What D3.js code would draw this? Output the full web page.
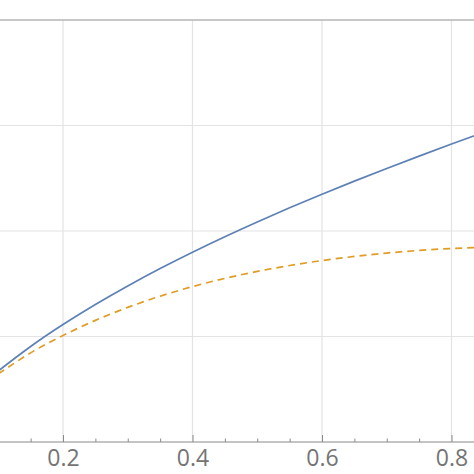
<!DOCTYPE html>
<html>
<head>
<style>
  body { margin: 0; background: #fff; }
</style>
</head>
<body>
<svg width="474" height="474"></svg>
<script src="https://d3js.org/d3.v7.min.js"></script>
<script>
    // values (y in gridline units)
    var xs = [0.10, 0.15, 0.20, 0.25, 0.30, 0.35, 0.40, 0.45, 0.50, 0.55, 0.60, 0.65, 0.70, 0.75, 0.80, 0.85];
    var solidSeries = [0.673, 0.905, 1.113, 1.303, 1.479, 1.644, 1.799, 1.946, 2.086, 2.220, 2.349, 2.473, 2.593, 2.710, 2.824, 2.935];
    var dashedSeries = [0.645, 0.845, 1.010, 1.153, 1.276, 1.382, 1.473, 1.551, 1.617, 1.673, 1.720, 1.759, 1.791, 1.816, 1.834, 1.845];
    var xTicks = [0.2, 0.4, 0.6, 0.8];
    var xMinorTicks = [0.15, 0.25, 0.3, 0.35, 0.45, 0.5, 0.55, 0.65, 0.7, 0.75, 0.85];
    var yGrid = [1, 2, 3];

    var svg = d3.select("svg"),
        width = +svg.attr("width"),
        height = +svg.attr("height");

    // x: 0.2 -> 63px, 0.8 -> 451.5px ; y: 0 -> 442px, 4 -> 20px
    var x = d3.scaleLinear().domain([0.2, 0.8]).range([63, 451.5]);
    var y = d3.scaleLinear().domain([0, 4]).range([442, 20]);

    var g = svg.append("g");

    // grid
    g.selectAll(".vgrid")
        .data(xTicks)
        .enter().append("line")
        .attr("class", "vgrid")
        .attr("x1", function (d) { return x(d); })
        .attr("x2", function (d) { return x(d); })
        .attr("y1", y(0))
        .attr("y2", y(4))
        .attr("stroke", "#e3e3e3")
        .attr("stroke-width", 1.2);

    g.selectAll(".hgrid")
        .data(yGrid)
        .enter().append("line")
        .attr("class", "hgrid")
        .attr("x1", 0)
        .attr("x2", width)
        .attr("y1", function (d) { return y(d); })
        .attr("y2", function (d) { return y(d); })
        .attr("stroke", "#e3e3e3")
        .attr("stroke-width", 1.2);

    // top frame
    g.append("line")
        .attr("x1", 0).attr("x2", width)
        .attr("y1", y(4)).attr("y2", y(4))
        .attr("stroke", "#b5b5b5")
        .attr("stroke-width", 1.3);

    // bottom axis (ticks inside)
    var xAxis = g.append("g")
        .attr("transform", "translate(0," + y(0) + ")")
        .call(d3.axisBottom(x).tickValues(xTicks).tickSize(-7).tickPadding(8)
            .tickFormat(d3.format(".1f")));
    xAxis.select(".domain").remove();
    xAxis.selectAll(".tick line").attr("stroke", "#8a8a8a").attr("stroke-width", 1);
    xAxis.selectAll(".tick text")
        .attr("fill", "#747474")
        .style("font-family", "'Open Sans', sans-serif")
        .style("font-size", "23px");

    g.append("g")
        .attr("transform", "translate(0," + y(0) + ")")
        .call(d3.axisBottom(x).tickValues(xMinorTicks).tickSize(-3.5).tickFormat(""))
        .call(function (a) {
            a.select(".domain").remove();
            a.selectAll(".tick line").attr("stroke", "#8a8a8a").attr("stroke-width", 1);
        });

    g.append("line")
        .attr("x1", 0).attr("x2", width)
        .attr("y1", y(0)).attr("y2", y(0))
        .attr("stroke", "#8a8a8a")
        .attr("stroke-width", 1.2);

    // curves
    var line = function (vals) {
        return d3.line()
            .curve(d3.curveNatural)
            .x(function (d, i) { return x(xs[i]); })
            .y(function (d) { return y(d); })(vals);
    };

    g.append("path")
        .attr("d", line(dashedSeries))
        .attr("fill", "none")
        .attr("stroke", "#e19c24")
        .attr("stroke-width", 1.7)
        .attr("stroke-dasharray", "7,5");

    g.append("path")
        .attr("d", line(solidSeries))
        .attr("fill", "none")
        .attr("stroke", "#5e81b5")
        .attr("stroke-width", 1.7);
</script>
</body>
</html>
